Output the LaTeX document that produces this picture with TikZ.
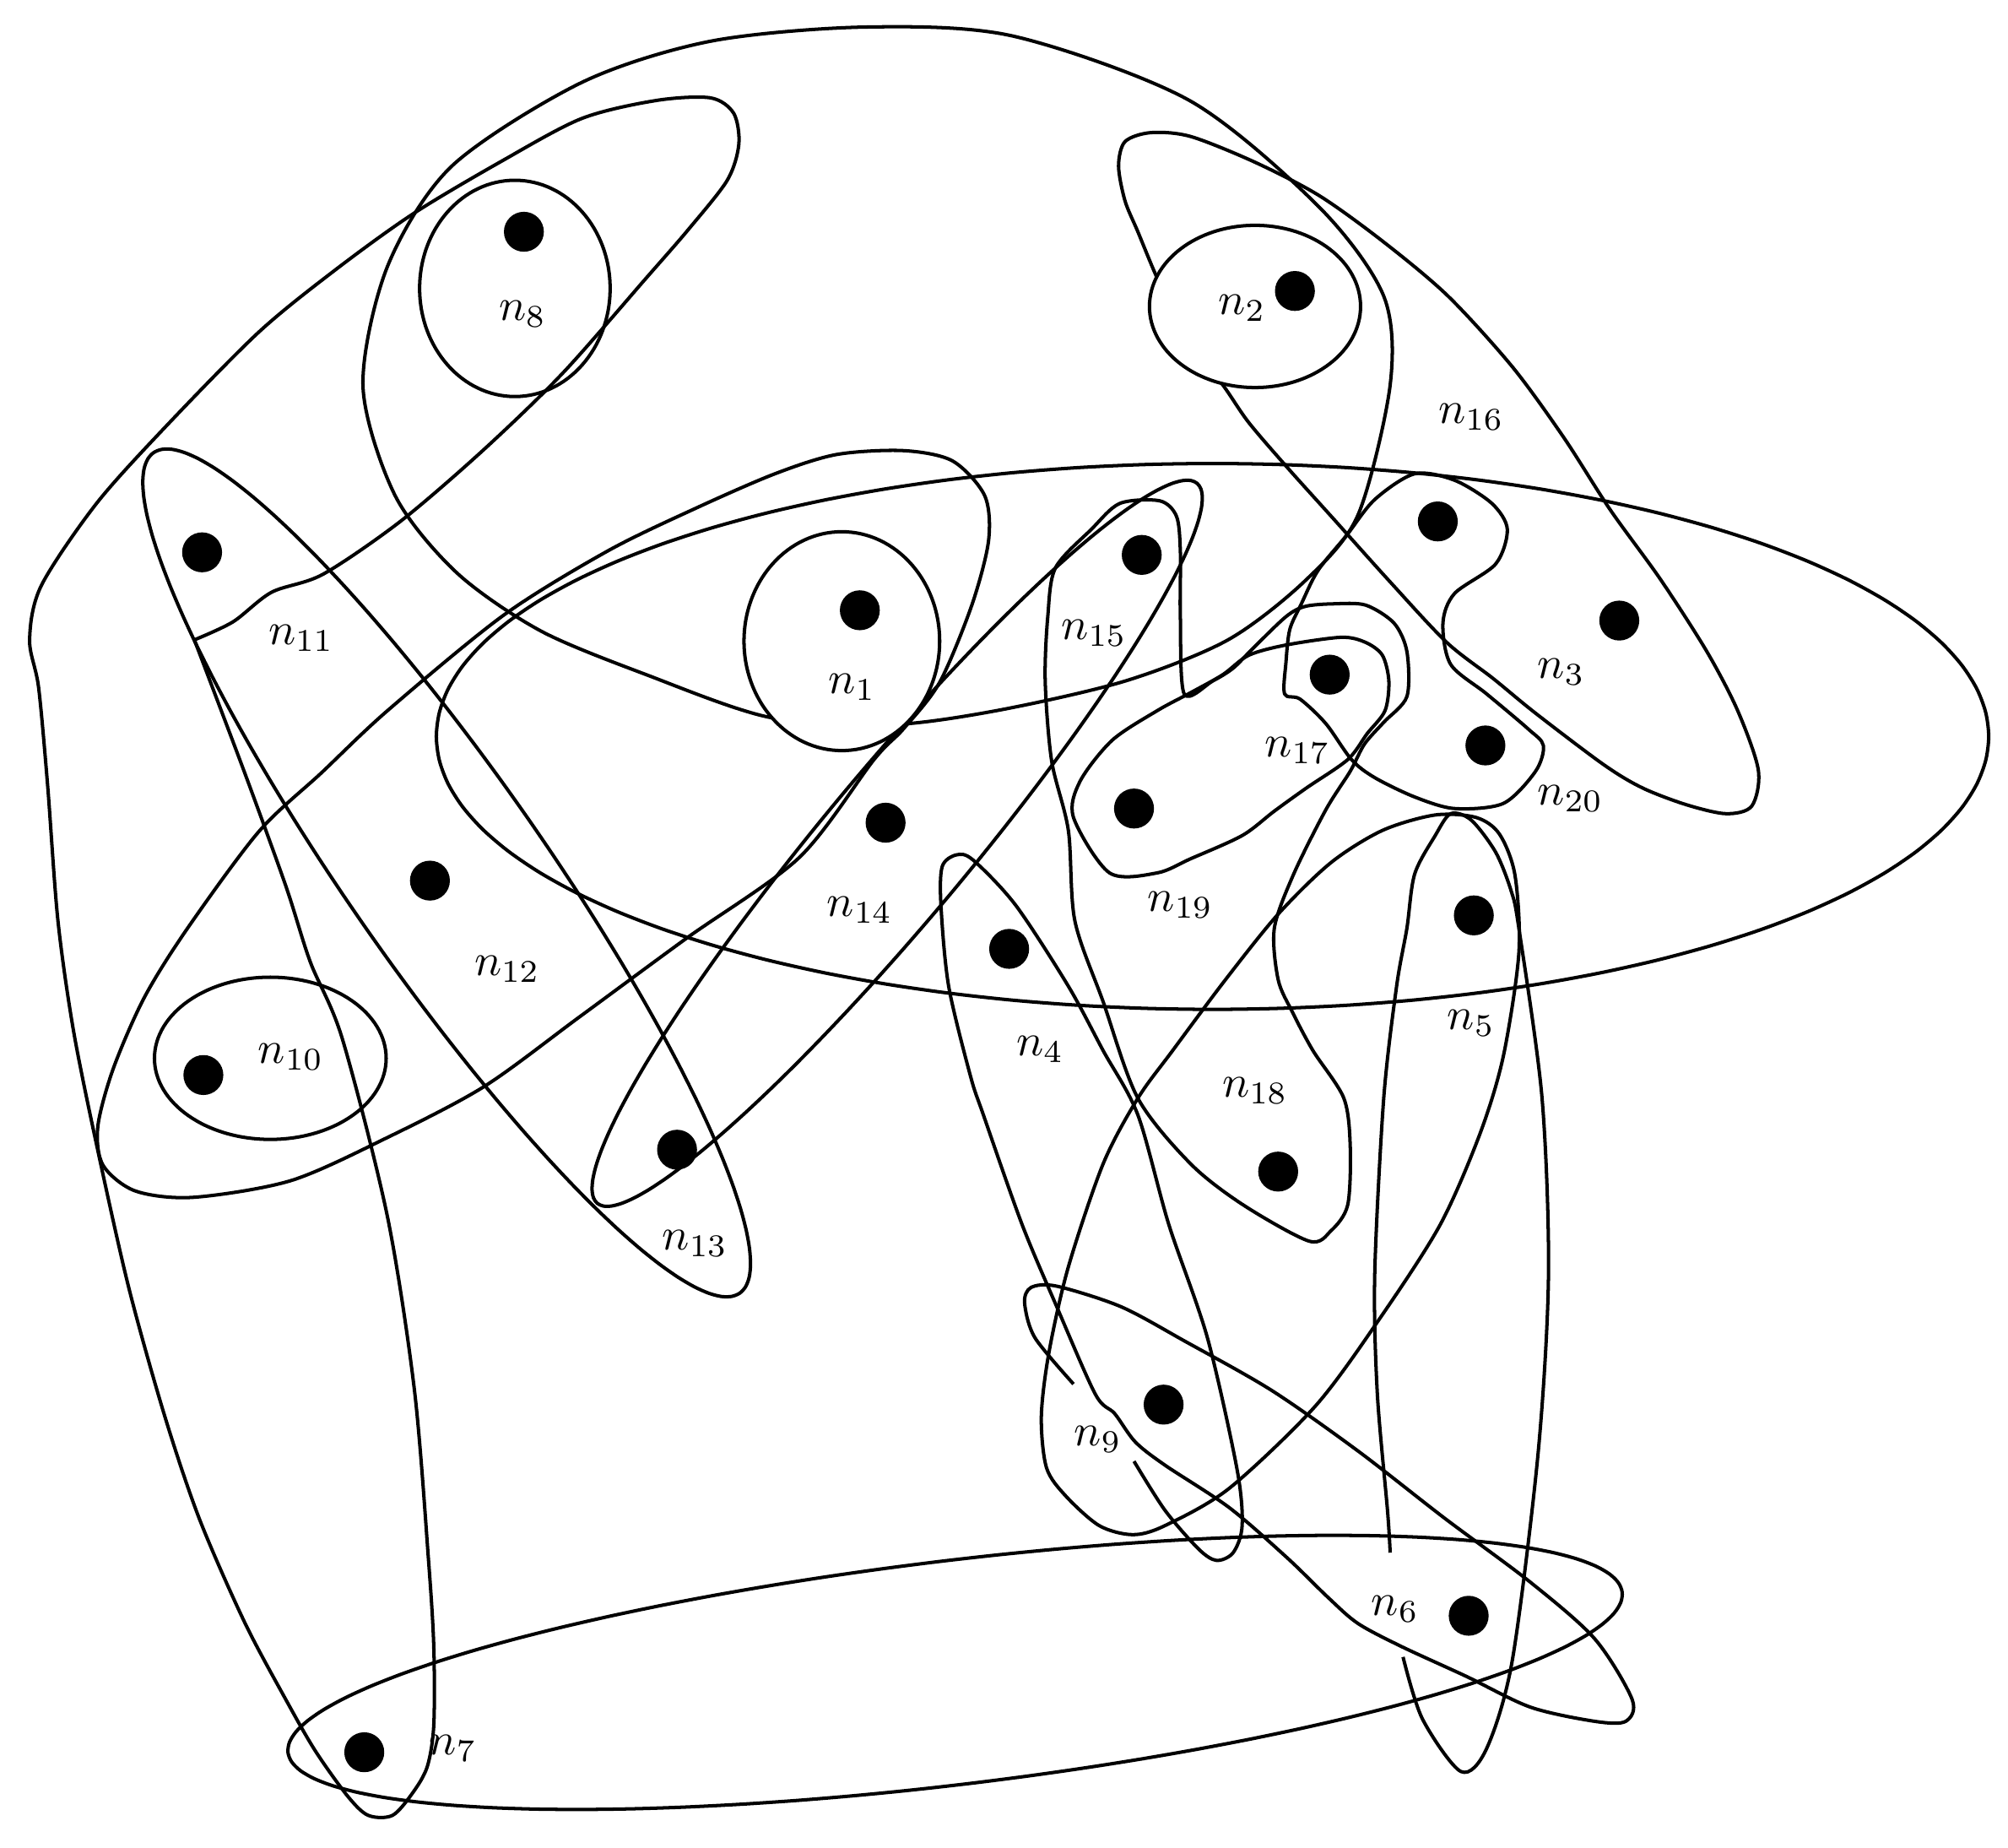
\documentclass[tikz,border=0pt]{standalone}
\usetikzlibrary{positioning}

% closed ellipse as a plot: centre x, centre y, half axes a and b, angle
\newcommand{\hyperellipse}[5]{plot[smooth cycle,variable=\t,domain=0:355,samples=72] ({#1+#3*cos(\t)*cos(#5)-#4*sin(\t)*sin(#5)},{#2+#3*cos(\t)*sin(#5)+#4*sin(\t)*cos(#5)})}

\begin{document}
\begin{tikzpicture}
%Hypergraph with twenty vertices
	[
	 %Styles
	 x=0.01cm, y=-0.01cm,
	 vertex/.style={circle,fill=black,inner sep=0pt,minimum size=3.1mm},
	 vertex_label/.style={inner sep=0pt},
	 hyper_edge/.style={draw=black,line width=0.75pt,line join=round},
	 hyper_circle/.style={hyper_edge,fill=white}
	]
	\useasboundingbox (0,0) rectangle (1560,1435);

	%Big edge at the top
	\draw[hyper_edge] plot[smooth cycle] coordinates {(672,21) (787,28) (924,78) (1025,161) (1075,230) (1080,299) (1055,400) (1014,451) (954,497) (874,529) (774,552) (690,563) (597,557) (502,524) (420,490) (355,445) (307,385) (282,300) (301,207) (351,129) (452,64) (552,32)};
	%Long edge from n8 down to n7
	\draw[hyper_edge] plot[smooth] coordinates {(151,497) (190,600) (222,688) (241,747) (266,807) (301,945) (322,1080) (333,1213) (337,1279) (337,1340) (332,1372) (321,1392) (305,1410) (286,1410) (270,1395) (245,1360) (222,1320) (190,1260) (155,1180) (128,1100) (100,1000) (75,889) (57,800) (45,715) (37,610) (30,534) (23,497) (32,455) (75,391) (130,330) (201,258) (260,210) (321,166) (390,125) (452,92) (510,78) (552,76) (570,88) (574,112) (565,140) (535,178) (502,216) (437,290) (375,350) (311,405) (251,446) (211,460) (181,483) (151,497)};
	%Edge n11 n12 n13
	\draw[hyper_edge] \hyperellipse{347}{678}{398}{76}{55.1};
	%Edge n10 n12 n1
	\draw[hyper_edge] plot[smooth cycle] coordinates {(702,350) (740,358) (765,385) (768,420) (755,470) (730,530) (702,566) (679,590) (621,666) (533,729) (450,790) (376,844) (300,884) (226,917) (150,930) (105,925) (80,905) (76,875) (88,830) (112,775) (145,722) (201,646) (250,600) (301,552) (391,478) (472,428) (540,395) (602,368) (650,353)};
	%Big horizontal edge
	\draw[hyper_edge] \hyperellipse{942}{572}{603}{212}{0};
	%Edge n13 n14 n15
	\draw[hyper_edge] \hyperellipse{697}{655}{364}{57}{-50.2};
	%Edge n15 n17 n18
	\draw[hyper_edge] plot[smooth cycle] coordinates {(870,391) (901,389) (914,401) (917,428) (917,479) (920,539) (942,529) (958,519) (973,504) (999,479) (1014,471) (1036,469) (1061,470) (1083,484) (1093,506) (1093,541) (1075,561) (1060,578) (1049,599) (1030,629) (1005,679) (990,721) (993,761) (1004,786) (1020,816) (1044,853) (1049,891) (1047,936) (1034,956) (1017,964) (966,936) (925,904) (884,853) (857,778) (835,715) (830,645) (817,591) (812,529) (814,479) (820,441) (848,411)};
	%Edge n16 n17 n20
	\draw[hyper_edge] plot[smooth cycle] coordinates {(1099,368) (1130,373) (1159,391) (1171,411) (1162,438) (1130,461) (1121,484) (1127,516) (1155,539) (1187,566) (1199,579) (1193,599) (1168,624) (1130,628) (1099,619) (1068,604) (1050,590) (1030,562) (1010,543) (998,539) (999,515) (1002,489) (1011,469) (1024,443) (1046,416) (1068,388)};
	%Edge n17 n19
	\draw[hyper_edge] plot[smooth cycle] coordinates {(925,538) (950,524) (970,509) (999,501) (1042,495) (1061,499) (1074,509) (1079,529) (1076,552) (1062,570) (1047,590) (1015,612) (990,630) (965,649) (925,667) (899,678) (862,678) (834,635) (839,607) (864,575) (899,552)};
	%Edge n2 n16 n3
	\draw[hyper_edge] plot[smooth cycle] coordinates {(869,129) (874,110) (894,103) (925,106) (975,126) (1025,152) (1075,188) (1125,230) (1175,285) (1215,340) (1251,396) (1290,450) (1326,506) (1350,552) (1366,598) (1361,626) (1341,632) (1310,625) (1276,612) (1246,594) (1193,554) (1160,527) (1124,499) (1080,452) (1036,403) (1000,363) (970,328) (950,299) (920,260) (899,216) (884,180) (874,156)};
	%Edge n4 n9 n6
	\draw[hyper_edge] plot[smooth] coordinates {(881,1135) (905,1173) (931,1203) (945,1212) (958,1206) (965,1185) (961,1141) (938,1039) (908,951) (884,866) (857,816) (830,766) (789,703) (756,668) (743,664) (732,673) (731,703) (737,766) (754,836) (764,866) (794,951) (821,1015) (851,1083) (866,1098) (882,1120) (905,1138) (955,1171) (1000,1210) (1032,1241) (1055,1261) (1089,1279) (1139,1302) (1189,1326) (1239,1337) (1263,1337) (1268,1320) (1239,1273) (1189,1229) (1122,1179) (1055,1127) (988,1080) (921,1042) (871,1015) (821,999) (801,1000) (796,1012) (804,1039) (834,1075)};
	%Edge n9 n18 n5
	\draw[hyper_edge] plot[smooth cycle] coordinates {(1147,635) (1115,633) (1074,645) (1034,670) (993,710) (952,761) (911,816) (884,853) (857,904) (830,984) (815,1050) (809,1100) (813,1140) (828,1162) (854,1185) (880,1192) (905,1185) (955,1156) (1022,1092) (1072,1024) (1119,951) (1150,880) (1168,820) (1180,740) (1177,680) (1165,648)};
	%Edge n5 n6
	\draw[hyper_edge] plot[smooth] coordinates {(1080,1206) (1078,1174) (1070,1082) (1068,990) (1075,853) (1085,766) (1093,721) (1099,679) (1115,649) (1127,632) (1143,637) (1162,662) (1174,692) (1180,721) (1198,853) (1203,990) (1195,1128) (1175,1289) (1155,1358) (1135,1376) (1105,1335) (1090,1287)};
	%Edge n7 n6
	\draw[hyper_edge] \hyperellipse{742}{1299}{522}{87}{-6.85};

	%Single vertex edges
	\draw[hyper_edge] (400,224) ellipse [x radius=74, y radius=84];
	\draw[hyper_edge] (210,822) ellipse [x radius=90, y radius=63];
	\draw[hyper_circle] (654,498) ellipse [x radius=76, y radius=85];
	\draw[hyper_circle] (975,238) ellipse [x radius=82, y radius=63];

	%Node placement
	\node (n1) [vertex] at (668,474) {};
	\node (n2) [vertex] at (1006,226) {};
	\node (n3) [vertex] at (1258,482) {};
	\node (n4) [vertex] at (784,737) {};
	\node (n5) [vertex] at (1145,711) {};
	\node (n6) [vertex] at (1141,1255) {};
	\node (n7) [vertex] at (283,1361) {};
	\node (n8) [vertex] at (407,180) {};
	\node (n9) [vertex] at (904,1091) {};
	\node (n10) [vertex] at (158,835) {};
	\node (n11) [vertex] at (157,429) {};
	\node (n12) [vertex] at (334,684) {};
	\node (n13) [vertex] at (526,893) {};
	\node (n14) [vertex] at (688,639) {};
	\node (n15) [vertex] at (887,431) {};
	\node (n16) [vertex] at (1117,405) {};
	\node (n17) [vertex] at (1033,524) {};
	\node (n18) [vertex] at (993,910) {};
	\node (n19) [vertex] at (881,628) {};
	\node (n20) [vertex] at (1154,579) {};

	%Labels
	\node (l1) [vertex_label] at (662,534) {$n_{1}$};
	\node (l2) [vertex_label] at (965,239) {$n_{2}$};
	\node (l3) [vertex_label] at (1213,522) {$n_{3}$};
	\node (l4) [vertex_label] at (808,815) {$n_{4}$};
	\node (l5) [vertex_label] at (1143,795) {$n_{5}$};
	\node (l6) [vertex_label] at (1084,1250) {$n_{6}$};
	\node (l7) [vertex_label] at (352,1358) {$n_{7}$};
	\node (l8) [vertex_label] at (406,244) {$n_{8}$};
	\node (l9) [vertex_label] at (853,1118) {$n_{9}$};
	\node (l10) [vertex_label] at (226,821) {$n_{10}$};
	\node (l11) [vertex_label] at (234,496) {$n_{11}$};
	\node (l12) [vertex_label] at (394,753) {$n_{12}$};
	\node (l13) [vertex_label] at (540,966) {$n_{13}$};
	\node (l14) [vertex_label] at (668,707) {$n_{14}$};
	\node (l15) [vertex_label] at (850,492) {$n_{15}$};
	\node (l16) [vertex_label] at (1143,324) {$n_{16}$};
	\node (l17) [vertex_label] at (1008,583) {$n_{17}$};
	\node (l18) [vertex_label] at (975,847) {$n_{18}$};
	\node (l19) [vertex_label] at (917,703) {$n_{19}$};
	\node (l20) [vertex_label] at (1220,620) {$n_{20}$};
\end{tikzpicture}
\end{document}
